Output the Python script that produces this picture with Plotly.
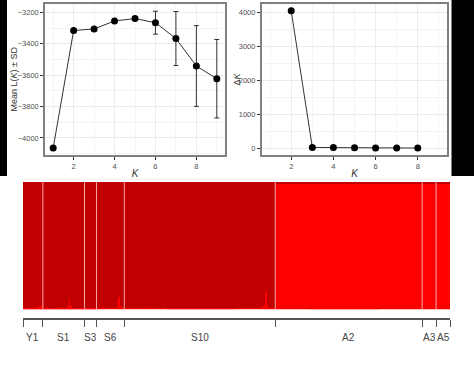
import plotly.graph_objects as go

# ---------------- data ----------------
K_left = [1, 2, 3, 4, 5, 6, 7, 8, 9]
meanL = [-4065, -3316, -3306, -3255, -3240, -3266, -3367, -3542, -3623]
sdL = [2, 5, 4, 6, 5, 73, 172, 257, 250]

K_right = [2, 3, 4, 5, 6, 7, 8]
deltaK = [4040, 22, 16, 13, 3, 2, 2]

groups = ["Y1", "S1", "S3", "S6", "S10", "A2", "A3", "A5"]
# membership in cluster 2 (bright red) for each individual, group by group
q_Y1 = [0.01, 0.01, 0.02, 0.01, 0.01, 0.02, 0.01, 0.02, 0.03, 0.04]
q_S1 = [0.01, 0.01, 0.02, 0.01, 0.01, 0.01, 0.01, 0.02, 0.01, 0.01, 0.02,
        0.01, 0.03, 0.08, 0.03, 0.01, 0.01, 0.01, 0.01, 0.01, 0.01]
q_S3 = [0.01, 0.01, 0.02, 0.01, 0.01, 0.01]
q_S6 = [0.01, 0.01, 0.01, 0.02, 0.01, 0.01, 0.01, 0.01, 0.01, 0.01, 0.02,
        0.10, 0.03, 0.01]
q_S10 = [0.01, 0.01, 0.01, 0.01, 0.01, 0.01, 0.01, 0.01, 0.01, 0.01, 0.01, 0.01,
         0.02, 0.01, 0.01, 0.01, 0.01, 0.01, 0.01, 0.01, 0.01, 0.01, 0.01, 0.01,
         0.01, 0.01, 0.01, 0.01, 0.01, 0.01, 0.01, 0.01, 0.01, 0.01, 0.01, 0.01,
         0.01, 0.01, 0.01, 0.01, 0.01, 0.01, 0.01, 0.01, 0.01, 0.01, 0.01, 0.01,
         0.01, 0.01, 0.01, 0.01, 0.01, 0.01, 0.01, 0.01, 0.01, 0.01, 0.01, 0.01,
         0.01, 0.01, 0.01, 0.01, 0.01, 0.01, 0.01, 0.01, 0.01, 0.02, 0.03, 0.14,
         0.02, 0.01, 0.01, 0.01]
q_A2 = [0.99, 0.99, 0.99, 0.99, 0.99, 0.99, 0.99, 0.99, 0.99, 0.99, 0.99, 0.99,
        0.99, 0.99, 0.99, 0.99, 0.99, 0.99, 0.99, 0.99, 0.99, 0.99, 0.99, 0.99,
        0.99, 0.99, 0.99, 0.99, 0.99, 0.99, 0.99, 0.99, 0.99, 0.99, 0.99, 0.99,
        0.99, 0.99, 0.99, 0.99, 0.99, 0.99, 0.99, 0.99, 0.99, 0.99, 0.99, 0.99,
        0.99, 0.99, 0.99, 0.99, 0.99, 0.99, 0.99, 0.99, 0.99, 0.99, 0.99, 0.99,
        0.99, 0.99, 0.99, 0.99, 0.99, 0.99, 0.99, 0.99, 0.99, 0.99, 0.99, 0.99,
        0.99, 0.99]
q_A3 = [0.99, 0.99, 0.99, 0.99, 0.99, 0.99, 0.99]
q_A5 = [0.99, 0.99, 0.99, 0.99, 0.99, 0.99, 0.99]

group_q = [q_Y1, q_S1, q_S3, q_S6, q_S10, q_A2, q_A3, q_A5]

# ---------------- build ----------------
W, H = 474, 366
def px(x):
    return x / W
def py(y):
    return (H - y) / H

FONT = "Liberation Sans, Arial, sans-serif"
TICKC = "#4D4D4D"

q2 = [v for g in group_q for v in g]
q1 = [1 - v for v in q2]
idx = list(range(len(q2)))
bounds = [0]
for g in group_q:
    bounds.append(bounds[-1] + len(g))
edges = [b - 0.5 for b in bounds]
centers = [(bounds[i] + bounds[i + 1] - 1) / 2 for i in range(len(groups))]

fig = go.Figure()

fig.add_trace(go.Scatter(
    x=K_left, y=meanL, mode="lines+markers",
    line=dict(color="#333333", width=1),
    marker=dict(color="black", size=7),
    error_y=dict(type="data", array=sdL, color="black", thickness=0.8, width=2.5),
    xaxis="x", yaxis="y", showlegend=False))

fig.add_trace(go.Scatter(
    x=K_right, y=deltaK, mode="lines+markers",
    line=dict(color="#333333", width=1),
    marker=dict(color="black", size=7),
    xaxis="x2", yaxis="y2", showlegend=False))

fig.add_trace(go.Bar(x=idx, y=q2, marker=dict(color="#FF0000", line=dict(width=0)),
                     xaxis="x3", yaxis="y3", showlegend=False, width=1))
fig.add_trace(go.Bar(x=idx, y=q1, marker=dict(color="#C00000", line=dict(width=0)),
                     xaxis="x3", yaxis="y3", showlegend=False, width=1))

panel_axis = dict(showline=True, mirror=True, linecolor="#808080", linewidth=1.5,
                  showgrid=True, gridcolor="#EBEBEB", gridwidth=1,
                  ticks="outside", ticklen=3, tickcolor="#333333",
                  tickfont=dict(family=FONT, size=7.5, color=TICKC),
                  zeroline=False, automargin=False)

fig.update_layout(
    width=W, height=H, margin=dict(l=0, r=0, t=0, b=0),
    paper_bgcolor="white", plot_bgcolor="white",
    barmode="stack", bargap=0,
    font=dict(family=FONT),
    xaxis=dict(panel_axis, domain=[px(45), px(225)], anchor="y",
               range=[0.6, 9.4], tickvals=[2, 4, 6, 8],
               minor=dict(tickvals=[1, 3, 5, 7, 9], showgrid=True, gridcolor="#F4F4F4", ticks=""),
               title=dict(text="<i>K</i>", font=dict(size=10, color="#333333"), standoff=0)),
    yaxis=dict(panel_axis, domain=[py(155), py(4)], anchor="x",
               range=[-4109, -3147], tickvals=[-4000, -3800, -3600, -3400, -3200],
               minor=dict(tickvals=[-4100, -3900, -3700, -3500, -3300], showgrid=True, gridcolor="#F4F4F4", ticks="")),
    xaxis2=dict(panel_axis, domain=[px(261.7), px(447.3)], anchor="y2",
                range=[0.6, 9.4], tickvals=[2, 4, 6, 8],
                minor=dict(tickvals=[1, 3, 5, 7, 9], showgrid=True, gridcolor="#F4F4F4", ticks=""),
                title=dict(text="<i>K</i>", font=dict(size=10, color="#333333"), standoff=0)),
    yaxis2=dict(panel_axis, domain=[py(155), py(4)], anchor="x2",
                range=[-202, 4242], tickvals=[0, 1000, 2000, 3000, 4000],
                minor=dict(tickvals=[500, 1500, 2500, 3500], showgrid=True, gridcolor="#F4F4F4", ticks="")),
    xaxis3=dict(domain=[px(23), px(450)], anchor="free", position=py(319),
                range=[-0.5, len(q2) - 0.5], showline=True, linecolor="#555555", linewidth=2,
                ticks="outside", tickvals=edges, ticklen=7, tickwidth=1.2, tickcolor="#555555",
                showticklabels=False, showgrid=False, zeroline=False, automargin=False),
    yaxis3=dict(domain=[py(309.3), py(181.7)], anchor="x3", range=[0, 1],
                visible=False, showgrid=False, zeroline=False),
)

shapes = []
for e in edges[1:-1]:
    shapes.append(dict(type="line", xref="x3", yref="y3 domain", x0=e, x1=e, y0=0, y1=1,
                       line=dict(color="#F6A8A8", width=1)))
shapes.append(dict(type="rect", xref="paper", yref="paper", x0=0, x1=px(7), y0=py(176), y1=1,
                   fillcolor="black", line=dict(width=0), layer="below"))
shapes.append(dict(type="rect", xref="paper", yref="paper", x0=px(451.5), x1=1, y0=py(176), y1=1,
                   fillcolor="black", line=dict(width=0), layer="below"))
fig.update_layout(shapes=shapes)

annotations = []
for name, c in zip(groups, centers):
    annotations.append(dict(x=c, xref="x3", y=py(337), yref="paper", text=name,
                            showarrow=False, font=dict(family=FONT, size=10, color="#444444"),
                            xanchor="center", yanchor="middle"))
annotations.append(dict(x=px(14), xref="paper", y=py(79.5), yref="paper",
                        text="Mean L(<i>K</i>) ± SD", textangle=-90, showarrow=False,
                        font=dict(family=FONT, size=9, color="#333333"),
                        xanchor="center", yanchor="middle"))
annotations.append(dict(x=px(237), xref="paper", y=py(79.5), yref="paper",
                        text="Δ<i>K</i>", textangle=-90, showarrow=False,
                        font=dict(family=FONT, size=9, color="#333333"),
                        xanchor="center", yanchor="middle"))
fig.update_layout(annotations=annotations)

fig.write_html("out.html", config={"displayModeBar": False},
               post_script="document.body.style.margin='0';document.body.style.overflow='hidden';")
